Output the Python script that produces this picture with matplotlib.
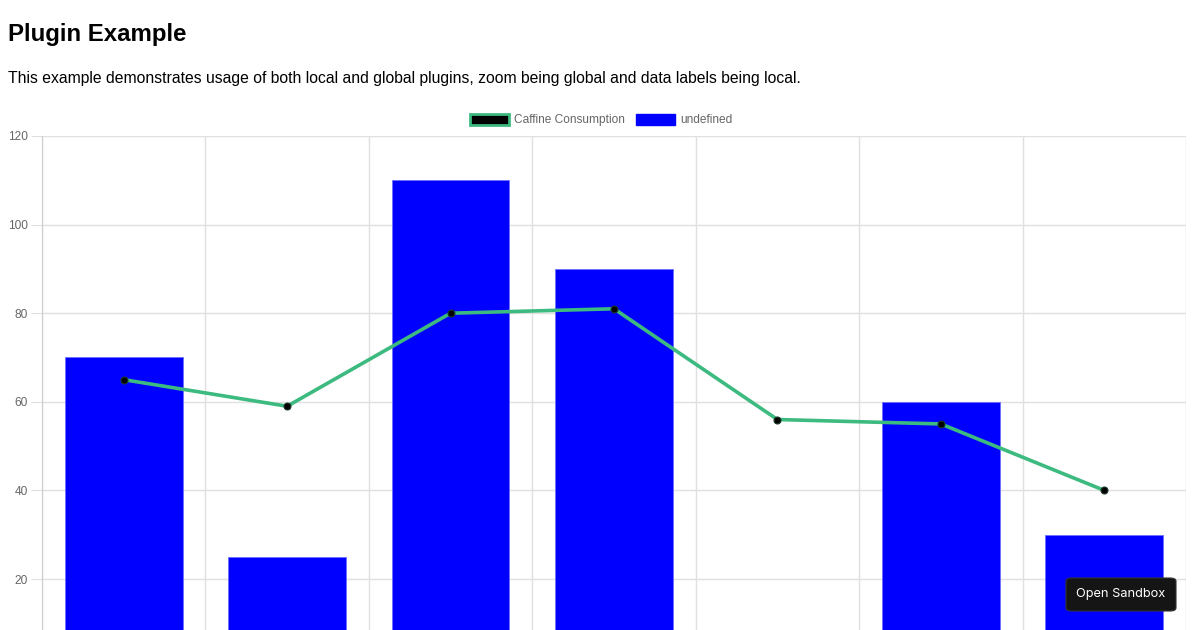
import matplotlib.pyplot as plt
from matplotlib.patches import Patch, FancyBboxPatch
import numpy as np

plt.rcParams['font.family'] = ['Liberation Sans', 'DejaVu Sans']

# data
categories = ["Mon", "Tue", "Wed", "Thu", "Fri", "Sat", "Sun"]
bar_values = [70, 25, 110, 90, 0, 60, 30]
line_values = [65, 59, 80, 81, 56, 55, 40]
y_ticks = [20, 40, 60, 80, 100, 120]  # the 0 tick lies below the visible crop

green = "#3dba80"
blue = "#0000ff"
grid_col = "#e0e0e0"

fig = plt.figure(figsize=(12, 6.3), dpi=100)

# page heading
fig.text(8 / 1200, 1 - 35 / 630, "Plugin Example", fontsize=17.3, fontweight="bold",
         va="center", ha="left", color="black")
fig.text(8 / 1200, 1 - 78 / 630,
         "This example demonstrates usage of both local and global plugins, "
         "zoom being global and data labels being local.",
         fontsize=11.35, va="center", ha="left", color="black")

# axes run below the bottom of the image (chart is cut off there,
# so the category labels are not visible)
left, right, top, zero_px = 42, 1186, 136, 667.6
ax = fig.add_axes([left / 1200, (630 - zero_px) / 630,
                   (right - left) / 1200, (zero_px - top) / 630])

x = np.arange(len(categories))
ax.bar(x, bar_values, width=0.72, color=blue, edgecolor="#6f6fff", linewidth=0.6,
       zorder=2, label="undefined")
ax.plot(x, line_values, color=green, linewidth=2.6, zorder=3,
        marker="o", markersize=5, markerfacecolor="black",
        markeredgecolor="#1a3a2a", markeredgewidth=0.8, label="Caffine Consumption")

ax.set_xlim(-0.5, len(categories) - 0.5)
ax.set_ylim(0, 120)
ax.set_yticks(y_ticks)
ax.set_xticks(x)
ax.set_xticklabels([])
ax.set_xticks(np.arange(len(categories) + 1) - 0.5, minor=True)

ax.grid(True, which="major", axis="y", color=grid_col, linewidth=1, zorder=0)
ax.grid(True, which="minor", axis="x", color=grid_col, linewidth=1, zorder=0)
ax.tick_params(axis="y", length=8, color=grid_col, labelcolor="#666666",
               labelsize=8.6, pad=2)
ax.tick_params(axis="x", which="both", length=0)
for side in ["top", "right", "bottom"]:
    ax.spines[side].set_visible(False)
ax.spines["left"].set_color("#cccccc")
ax.set_axisbelow(True)

# legend with chart.js style boxes
handles = [Patch(facecolor="black", edgecolor=green, linewidth=2),
           Patch(facecolor=blue, edgecolor=blue)]
fig.legend(handles, ["Caffine Consumption", "undefined"],
           loc="center", bbox_to_anchor=(601 / 1200, 1 - 120 / 630), ncol=2,
           frameon=False, fontsize=8.6, handlelength=3.3, handleheight=1.15,
           handletextpad=0.4, columnspacing=0.9, labelcolor="#666666")

# "Open Sandbox" button overlay
bx, by, bw, bh = 1066, 578, 110, 33
btn = FancyBboxPatch((bx / 1200, 1 - (by + bh) / 630), bw / 1200, bh / 630,
                     boxstyle="round,pad=0,rounding_size=0.005",
                     transform=fig.transFigure, facecolor="#151515",
                     edgecolor="#333333", linewidth=0.8, zorder=10)
fig.patches.append(btn)
fig.text((bx + bw / 2) / 1200, 1 - (by + bh / 2) / 630, "Open Sandbox",
         fontsize=9.2, color="white", ha="center", va="center", zorder=11,
         family=["Inter", "DejaVu Sans"])

fig.savefig("out.png", dpi=100)
